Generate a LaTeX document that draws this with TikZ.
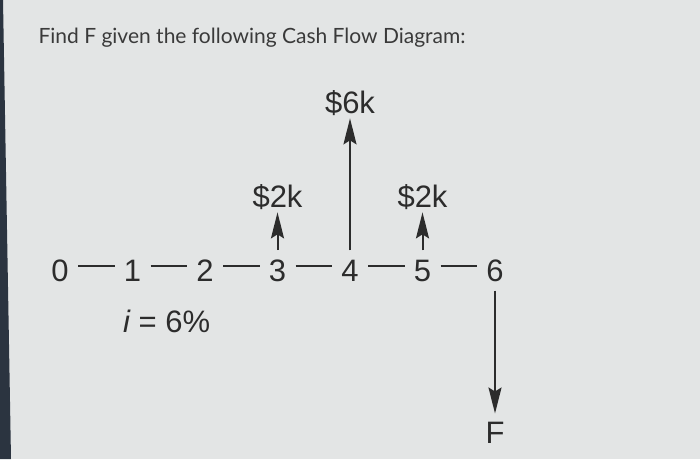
\documentclass[tikz,border=0pt]{standalone}
\usepackage{fontspec}
\setmainfont{Liberation Sans}
\newfontfamily\titlefont{Lato}
\usetikzlibrary{arrows.meta}

\definecolor{screengray}{HTML}{E3E5E5}
\definecolor{inkgray}{HTML}{2C2C2C}
\definecolor{titlegray}{HTML}{3A3A3A}
\definecolor{edgeblue}{HTML}{2B3440}

\tikzset{
    period/.style={inner sep=0pt, anchor=base, text=inkgray, font=\fontsize{31}{31}\selectfont},
    amount/.style={inner sep=0pt, anchor=base, text=inkgray, font=\fontsize{31}{31}\selectfont},
    timeline/.style={line width=2pt, draw=inkgray, shorten <=18pt, shorten >=18pt},
    flow/.style={line width=2pt, draw=inkgray, -{Stealth[length=26pt, width=13pt, inset=4pt]}}
}

\begin{document}
\begin{tikzpicture}[x=1pt, y=-1pt]
        \def\gap{72.5} % distance between two periods
        \def\baseline{281} % baseline of the period numbers

        % Define screen background
        \fill[screengray] (0,0) rectangle (700,459);
        \fill[edgeblue] (0,0) -- (3,0) -- (11,459) -- (0,459) -- cycle;
        \useasboundingbox (0,0) rectangle (700,459);

        % Define question title
        \node[anchor=base west, text=titlegray, font=\titlefont\fontsize{21}{21}\selectfont] (title) at (35,43) {Find F given the following Cash Flow Diagram:};

        % Define periods on the time line
        \foreach \i in {0,...,6} {
        \node[period] (d\i) at ({60+\i*\gap},\baseline) {\i};
        }
        \foreach \i/\j in {0/1, 1/2, 2/3, 3/4, 4/5, 5/6} {
        \draw[timeline] ([yshift=15pt]d\i.base) -- ([yshift=15pt]d\j.base);
        }

        % Define receipts above the time line
        \foreach \i/\top/\text in
        {
            3/207/\$2k,
            4/113/\$6k,
            5/207/\$2k
        } {
        \node[amount] (a\i) at ({60+\i*\gap},\top) {\text};
        \draw[flow, shorten <=9pt, shorten >=3pt] (d\i.north) -- (a\i.south);
        }

        % Define future value below the time line
        \node[amount] (fv) at (495,443) {F};
        \draw[flow, shorten <=9pt, shorten >=8pt] (d6.south) -- (fv.north);

        % Define interest rate
        \node[amount, anchor=base west] (rate) at (123,332) {\itshape i\upshape{} = 6\%};
    \end{tikzpicture}
\end{document}
